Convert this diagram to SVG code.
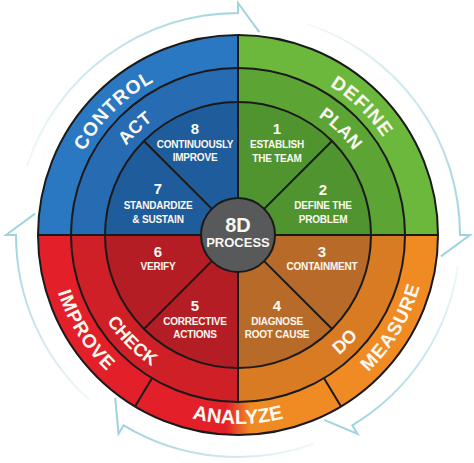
<svg xmlns="http://www.w3.org/2000/svg" width="474" height="463" viewBox="0 0 474 463">
<defs>
<style>
.t{font-family:"Liberation Sans","DejaVu Sans",sans-serif;font-weight:bold;fill:#fbf8f0}
.ring{font-size:19px;letter-spacing:1px}
.mid{font-size:18px}
.num{font-size:15px;text-anchor:middle}
.sub{font-size:10px;text-anchor:middle;letter-spacing:-0.2px}
.ln{stroke:#1a1a1a;stroke-width:2;fill:none}
.arr{fill:none;stroke-width:2;stroke-linejoin:miter}
</style>
<linearGradient id="gAn" gradientUnits="userSpaceOnUse" x1="226" y1="0" x2="250" y2="0">
<stop offset="0" stop-color="#e3202a"/><stop offset="1" stop-color="#f08a22"/>
</linearGradient>
<linearGradient id="gA" gradientUnits="userSpaceOnUse" x1="26.86" y1="166.4" x2="238" y2="13">
<stop offset="0" stop-color="#9fd3de" stop-opacity="0.15"/><stop offset="1" stop-color="#9fd3de"/></linearGradient>
<linearGradient id="gB" gradientUnits="userSpaceOnUse" x1="306.6" y1="23.86" x2="460" y2="235">
<stop offset="0" stop-color="#9fd3de" stop-opacity="0.15"/><stop offset="1" stop-color="#9fd3de"/></linearGradient>
<linearGradient id="gC" gradientUnits="userSpaceOnUse" x1="457.84" y1="265.9" x2="352.34" y2="425.29">
<stop offset="0" stop-color="#9fd3de" stop-opacity="0.15"/><stop offset="1" stop-color="#9fd3de"/></linearGradient>
<linearGradient id="gD" gradientUnits="userSpaceOnUse" x1="313.93" y1="443.61" x2="123.66" y2="425.29">
<stop offset="0" stop-color="#9fd3de" stop-opacity="0.15"/><stop offset="1" stop-color="#9fd3de"/></linearGradient>
<linearGradient id="gE" gradientUnits="userSpaceOnUse" x1="89.45" y1="399.98" x2="16" y2="235">
<stop offset="0" stop-color="#9fd3de" stop-opacity="0.15"/><stop offset="1" stop-color="#9fd3de"/></linearGradient>
<path id="pControl" d="M63.67,219.75 A175,175 0 0 1 222.75,60.67"/>
<path id="pAct" d="M95.78,220.05 A143,143 0 0 1 228.02,92.35"/>
<path id="pDefine" d="M250.21,60.43 A175,175 0 0 1 412.04,216.71"/>
<path id="pPlan" d="M247.98,92.35 A143,143 0 0 1 380.22,220.05"/>
<path id="pMeasure" d="M299.53,413.7 A189,189 0 0 0 424.67,205.43"/>
<path id="pDo" d="M251.68,391.4 A157,157 0 0 0 394.4,248.68"/>
<path id="pAnalyze" d="M116.51,379.78 A189,189 0 0 0 359.49,379.78"/>
<path id="pCheck" d="M81.6,248.68 A157,157 0 0 0 224.32,391.4"/>
<path id="pImprove" d="M50.84,208.7 A189,189 0 0 0 179.6,414.75"/>
</defs>
<rect width="474" height="463" fill="#ffffff"/>

<g id="connectors">
<path class="arr" stroke="url(#gA)" d="M26.86,166.4 A222,222 0 0 1 238,13 L238,3 L259.32,32.12"/>
<path class="arr" stroke="url(#gB)" d="M306.6,23.86 A222,222 0 0 1 460,235 L470,235 L440.88,256.32"/>
<path class="arr" stroke="url(#gC)" d="M457.84,265.9 A222,222 0 0 1 352.34,425.29 L357.49,433.86 L324.21,419.89"/>
<path class="arr" stroke="url(#gD)" d="M313.93,443.61 A222,222 0 0 1 123.66,425.29 L118.51,433.86 L115.23,397.92"/>
<path class="arr" stroke="url(#gE)" d="M89.45,399.98 A222,222 0 0 1 16,235 L6,235 L35.12,213.68"/>
</g>

<g id="wheel">
<path fill="#2b78c2" d="M238,235 L38,235 A200,200 0 0 1 238,35 Z"/>
<path fill="#6cb83c" d="M238,235 L238,35 A200,200 0 0 1 438,235 Z"/>
<path fill="#f08a22" d="M238,235 L438,235 A200,200 0 0 1 341.01,406.43 Z"/>
<path fill="url(#gAn)" d="M238,235 L341.01,406.43 A200,200 0 0 1 134.99,406.43 Z"/>
<path fill="#e3202a" d="M238,235 L134.99,406.43 A200,200 0 0 1 38,235 Z"/>
<path fill="#276cb3" d="M238,235 L71,235 A167,167 0 0 1 238,68 Z"/>
<path fill="#5ca535" d="M238,235 L238,68 A167,167 0 0 1 405,235 Z"/>
<path fill="#d97b23" d="M238,235 L405,235 A167,167 0 0 1 238,402 Z"/>
<path fill="#cf1f27" d="M238,235 L238,402 A167,167 0 0 1 71,235 Z"/>
<path fill="#1f5c9c" d="M238,235 L105,235 A133,133 0 0 1 238,102 Z"/>
<path fill="#4f942f" d="M238,235 L238,102 A133,133 0 0 1 371,235 Z"/>
<path fill="#b86a28" d="M238,235 L371,235 A133,133 0 0 1 238,368 Z"/>
<path fill="#b51d24" d="M238,235 L238,368 A133,133 0 0 1 105,235 Z"/>
<circle class="ln" cx="238" cy="235" r="200"/>
<circle class="ln" cx="238" cy="235" r="167"/>
<circle class="ln" cx="238" cy="235" r="133"/>
<path class="ln" d="M38,235 H438 M238,35 V402 M324.01,378.15 L341.01,406.43 M151.99,378.15 L134.99,406.43 M264.16,261.16 L332.05,329.05 M211.84,261.16 L143.95,329.05 M211.84,208.84 L143.95,140.95 M264.16,208.84 L332.05,140.95"/>
</g>

<g id="label-control"><text class="t ring" text-anchor="middle"><textPath href="#pControl" startOffset="50%">CONTROL</textPath></text></g>
<g id="label-define"><text class="t ring" text-anchor="middle"><textPath href="#pDefine" startOffset="50%">DEFINE</textPath></text></g>
<g id="label-measure"><text class="t ring" text-anchor="middle"><textPath href="#pMeasure" startOffset="50%">MEASURE</textPath></text></g>
<g id="label-analyze"><text class="t" font-size="20" text-anchor="middle"><textPath href="#pAnalyze" startOffset="50%">ANALYZE</textPath></text></g>
<g id="label-improve"><text class="t ring" text-anchor="middle"><textPath href="#pImprove" startOffset="50%">IMPROVE</textPath></text></g>
<g id="label-act"><text class="t mid" text-anchor="middle"><textPath href="#pAct" startOffset="50%">ACT</textPath></text></g>
<g id="label-plan"><text class="t mid" text-anchor="middle"><textPath href="#pPlan" startOffset="50%">PLAN</textPath></text></g>
<g id="label-do"><text class="t mid" text-anchor="middle"><textPath href="#pDo" startOffset="50%">DO</textPath></text></g>
<g id="label-check"><text class="t mid" text-anchor="middle"><textPath href="#pCheck" startOffset="50%">CHECK</textPath></text></g>

<g id="step1"><text class="t num" x="277" y="133.5">1</text><text class="t sub" x="277" y="147.7">ESTABLISH</text><text class="t sub" x="277" y="161.5">THE TEAM</text></g>
<g id="step2"><text class="t num" x="323" y="195">2</text><text class="t sub" x="323" y="209.3">DEFINE THE</text><text class="t sub" x="323" y="222.7">PROBLEM</text></g>
<g id="step3"><text class="t num" x="322" y="256.7">3</text><text class="t sub" x="322" y="270.3">CONTAINMENT</text></g>
<g id="step4"><text class="t num" x="277" y="311">4</text><text class="t sub" x="277" y="325">DIAGNOSE</text><text class="t sub" x="277" y="338.3">ROOT CAUSE</text></g>
<g id="step5"><text class="t num" x="195" y="311">5</text><text class="t sub" x="195" y="325">CORRECTIVE</text><text class="t sub" x="195" y="338.3">ACTIONS</text></g>
<g id="step6"><text class="t num" x="158" y="256.7">6</text><text class="t sub" x="158" y="270.3">VERIFY</text></g>
<g id="step7"><text class="t num" x="158" y="193.5">7</text><text class="t sub" x="158" y="209.3">STANDARDIZE</text><text class="t sub" x="158" y="222.7">&amp; SUSTAIN</text></g>
<g id="step8"><text class="t num" x="195" y="133.5">8</text><text class="t sub" x="195" y="147.5">CONTINUOUSLY</text><text class="t sub" x="195" y="161">IMPROVE</text></g>

<g id="center">
<circle cx="238" cy="235" r="37" fill="#58595b" stroke="#1a1a1a" stroke-width="2"/>
<text class="t" x="238" y="232" font-size="20" text-anchor="middle">8D</text>
<text class="t" x="238" y="247" font-size="13" text-anchor="middle">PROCESS</text>
</g>
</svg>
